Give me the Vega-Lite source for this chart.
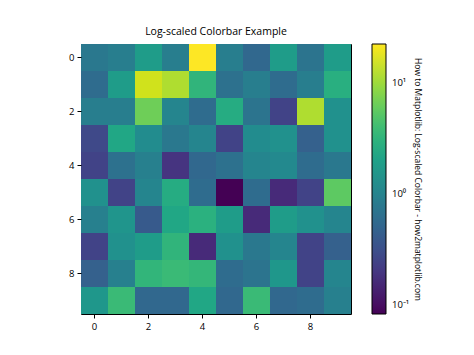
{
  "$schema": "https://vega.github.io/schema/vega-lite/v6.json",
  "width": 270,
  "height": 270,
  "autosize": {"type": "none"},
  "padding": {"left": 81, "top": 44, "right": 123, "bottom": 41},
  "background": "white",
  "config": {
    "font": "Open Sans",
    "view": {"stroke": "black", "strokeWidth": 1}
  },
  "title": {"text": "Log-scaled Colorbar Example", "fontSize": 10.5, "fontWeight": "normal", "font": "Open Sans", "offset": 4, "color": "black"},
  "data": {"values": [
    {"row":0,"col":0,"value":0.78},{"row":0,"col":1,"value":0.87},{"row":0,"col":2,"value":1.8},{"row":0,"col":3,"value":0.87},{"row":0,"col":4,"value":22.2},{"row":0,"col":5,"value":0.87},{"row":0,"col":6,"value":0.53},{"row":0,"col":7,"value":1.8},{"row":0,"col":8,"value":0.7},{"row":0,"col":9,"value":1.8},
    {"row":1,"col":0,"value":0.59},{"row":1,"col":1,"value":1.8},{"row":1,"col":2,"value":15.0},{"row":1,"col":3,"value":11.4},{"row":1,"col":4,"value":3.2},{"row":1,"col":5,"value":0.66},{"row":1,"col":6,"value":0.87},{"row":1,"col":7,"value":0.59},{"row":1,"col":8,"value":0.87},{"row":1,"col":9,"value":2.8},
    {"row":2,"col":0,"value":0.87},{"row":2,"col":1,"value":0.87},{"row":2,"col":2,"value":6.5},{"row":2,"col":3,"value":1.03},{"row":2,"col":4,"value":0.59},{"row":2,"col":5,"value":2.6},{"row":2,"col":6,"value":0.7},{"row":2,"col":7,"value":0.25},{"row":2,"col":8,"value":11.4},{"row":2,"col":9,"value":1.36},
    {"row":3,"col":0,"value":0.28},{"row":3,"col":1,"value":2.3},{"row":3,"col":2,"value":1.22},{"row":3,"col":3,"value":0.78},{"row":3,"col":4,"value":1.03},{"row":3,"col":5,"value":0.25},{"row":3,"col":6,"value":1.22},{"row":3,"col":7,"value":1.36},{"row":3,"col":8,"value":0.45},{"row":3,"col":9,"value":1.36},
    {"row":4,"col":0,"value":0.25},{"row":4,"col":1,"value":0.66},{"row":4,"col":2,"value":0.92},{"row":4,"col":3,"value":0.19},{"row":4,"col":4,"value":0.53},{"row":4,"col":5,"value":0.66},{"row":4,"col":6,"value":1.03},{"row":4,"col":7,"value":1.15},{"row":4,"col":8,"value":0.59},{"row":4,"col":9,"value":0.78},
    {"row":5,"col":0,"value":1.36},{"row":5,"col":1,"value":0.25},{"row":5,"col":2,"value":1.03},{"row":5,"col":3,"value":2.6},{"row":5,"col":4,"value":0.59},{"row":5,"col":5,"value":0.083},{"row":5,"col":6,"value":0.59},{"row":5,"col":7,"value":0.16},{"row":5,"col":8,"value":0.25},{"row":5,"col":9,"value":5.5},
    {"row":6,"col":0,"value":0.92},{"row":6,"col":1,"value":1.52},{"row":6,"col":2,"value":0.4},{"row":6,"col":3,"value":2.3},{"row":6,"col":4,"value":2.9},{"row":6,"col":5,"value":1.8},{"row":6,"col":6,"value":0.16},{"row":6,"col":7,"value":1.8},{"row":6,"col":8,"value":1.36},{"row":6,"col":9,"value":1.03},
    {"row":7,"col":0,"value":0.25},{"row":7,"col":1,"value":1.36},{"row":7,"col":2,"value":1.8},{"row":7,"col":3,"value":3.2},{"row":7,"col":4,"value":0.16},{"row":7,"col":5,"value":1.36},{"row":7,"col":6,"value":0.78},{"row":7,"col":7,"value":1.03},{"row":7,"col":8,"value":0.25},{"row":7,"col":9,"value":0.45},
    {"row":8,"col":0,"value":0.45},{"row":8,"col":1,"value":0.92},{"row":8,"col":2,"value":3.3},{"row":8,"col":3,"value":3.7},{"row":8,"col":4,"value":3.4},{"row":8,"col":5,"value":0.59},{"row":8,"col":6,"value":0.7},{"row":8,"col":7,"value":1.61},{"row":8,"col":8,"value":0.25},{"row":8,"col":9,"value":1.03},
    {"row":9,"col":0,"value":1.61},{"row":9,"col":1,"value":3.7},{"row":9,"col":2,"value":0.53},{"row":9,"col":3,"value":0.53},{"row":9,"col":4,"value":2.3},{"row":9,"col":5,"value":0.53},{"row":9,"col":6,"value":3.7},{"row":9,"col":7,"value":0.53},{"row":9,"col":8,"value":0.59},{"row":9,"col":9,"value":0.92}
  ]},
  "layer": [
    {
      "mark": {"type": "rect"},
      "encoding": {
        "x": {"field": "col", "type": "ordinal", "scale": {"paddingInner": 0, "paddingOuter": 0},
          "axis": {"values": [0,2,4,6,8], "labelAngle": 0, "title": null, "domain": false, "tickColor": "black", "tickSize": 4, "labelColor": "black", "labelFontSize": 9.5, "labelFont": "Open Sans", "labelPadding": 3}},
        "y": {"field": "row", "type": "ordinal", "scale": {"paddingInner": 0, "paddingOuter": 0},
          "axis": {"values": [0,2,4,6,8], "title": null, "domain": false, "tickColor": "black", "tickSize": 4, "labelColor": "black", "labelFontSize": 9.5, "labelFont": "Open Sans", "labelPadding": 3}},
        "color": {"field": "value", "type": "quantitative",
          "scale": {"type": "log", "scheme": "viridis", "domain": [0.083, 22.2]},
          "legend": {
            "title": null, "orient": "none", "legendX": 291, "legendY": 0, "direction": "vertical",
            "gradientLength": 270, "gradientThickness": 14, "gradientStrokeColor": "black", "gradientStrokeWidth": 1,
            "values": [0.1, 1, 10],
            "labelExpr": "datum.value == 10 ? '10¹' : datum.value == 1 ? '10⁰' : '10⁻¹'",
            "labelFontSize": 9.5, "labelFont": "Open Sans", "labelColor": "black", "labelOffset": 6, "padding": 0, "labelOverlap": false
          }
        }
      }
    },
    {
      "mark": {"type": "point", "opacity": 0},
      "encoding": {
        "x": {"field": "col", "type": "ordinal"},
        "y": {"field": "row", "type": "quantitative",
          "axis": {"orient": "right", "title": "How to Matplotlib: Log-scaled Colorbar - how2matplotlib.com", "titleFont": "Open Sans", "titleFontSize": 8.5, "titleFontWeight": "normal", "titleColor": "black", "titlePadding": 61,
            "labels": false, "ticks": false, "domain": false, "grid": false}}
      }
    }
  ],
  "resolve": {"scale": {"y": "independent"}, "axis": {"y": "independent"}}
}
